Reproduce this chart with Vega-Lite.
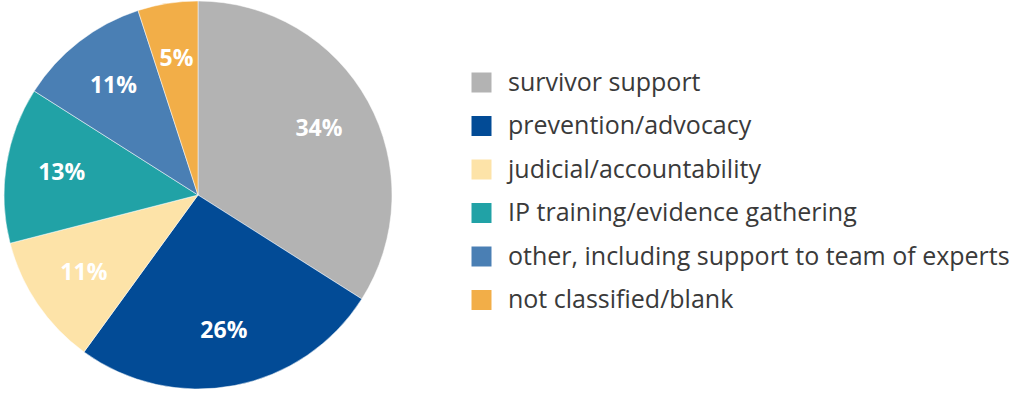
{
  "$schema": "https://vega.github.io/schema/vega-lite/v6.json",
  "width": 396,
  "height": 388,
  "padding": 0,
  "background": "white",
  "config": {"view": {"stroke": null}},
  "data": {
    "values": [
      {"category": "survivor support", "share": 34, "label": "34%", "rank": 1},
      {"category": "prevention/advocacy", "share": 26, "label": "26%", "rank": 2},
      {"category": "judicial/accountability", "share": 11, "label": "11%", "rank": 3},
      {"category": "IP training/evidence gathering", "share": 13, "label": "13%", "rank": 4},
      {"category": "other, including support to team of experts", "share": 11, "label": "11%", "rank": 5},
      {"category": "not classified/blank", "share": 5, "label": "5%", "rank": 6}
    ]
  },
  "encoding": {
    "theta": {"field": "share", "type": "quantitative", "stack": true},
    "order": {"field": "rank", "type": "quantitative"}
  },
  "layer": [
    {
      "mark": {"type": "arc", "outerRadius": 194, "stroke": "white", "strokeWidth": 0.5},
      "encoding": {
        "color": {
          "field": "category",
          "type": "nominal",
          "sort": ["survivor support", "prevention/advocacy", "judicial/accountability", "IP training/evidence gathering", "other, including support to team of experts", "not classified/blank"],
          "scale": {
            "domain": ["survivor support", "prevention/advocacy", "judicial/accountability", "IP training/evidence gathering", "other, including support to team of experts", "not classified/blank"],
            "range": ["#b3b3b3", "#024b96", "#fde3a8", "#21a2a6", "#4a7fb4", "#f2ae48"]
          },
          "legend": {
            "title": null,
            "orient": "none",
            "legendX": 469,
            "legendY": 69,
            "padding": 0,
            "symbolType": "square",
            "symbolSize": 400,
            "symbolStrokeWidth": 0,
            "labelFont": "Open Sans",
            "labelFontSize": 25,
            "labelColor": "#3a3a3a",
            "labelOffset": 14,
            "labelLimit": 0,
            "rowPadding": 17.5
          }
        }
      }
    },
    {
      "mark": {"type": "text", "radius": 138, "font": "Open Sans", "fontWeight": "bold", "fontSize": 23, "fill": "white"},
      "encoding": {"text": {"field": "label", "type": "nominal"}}
    }
  ]
}
